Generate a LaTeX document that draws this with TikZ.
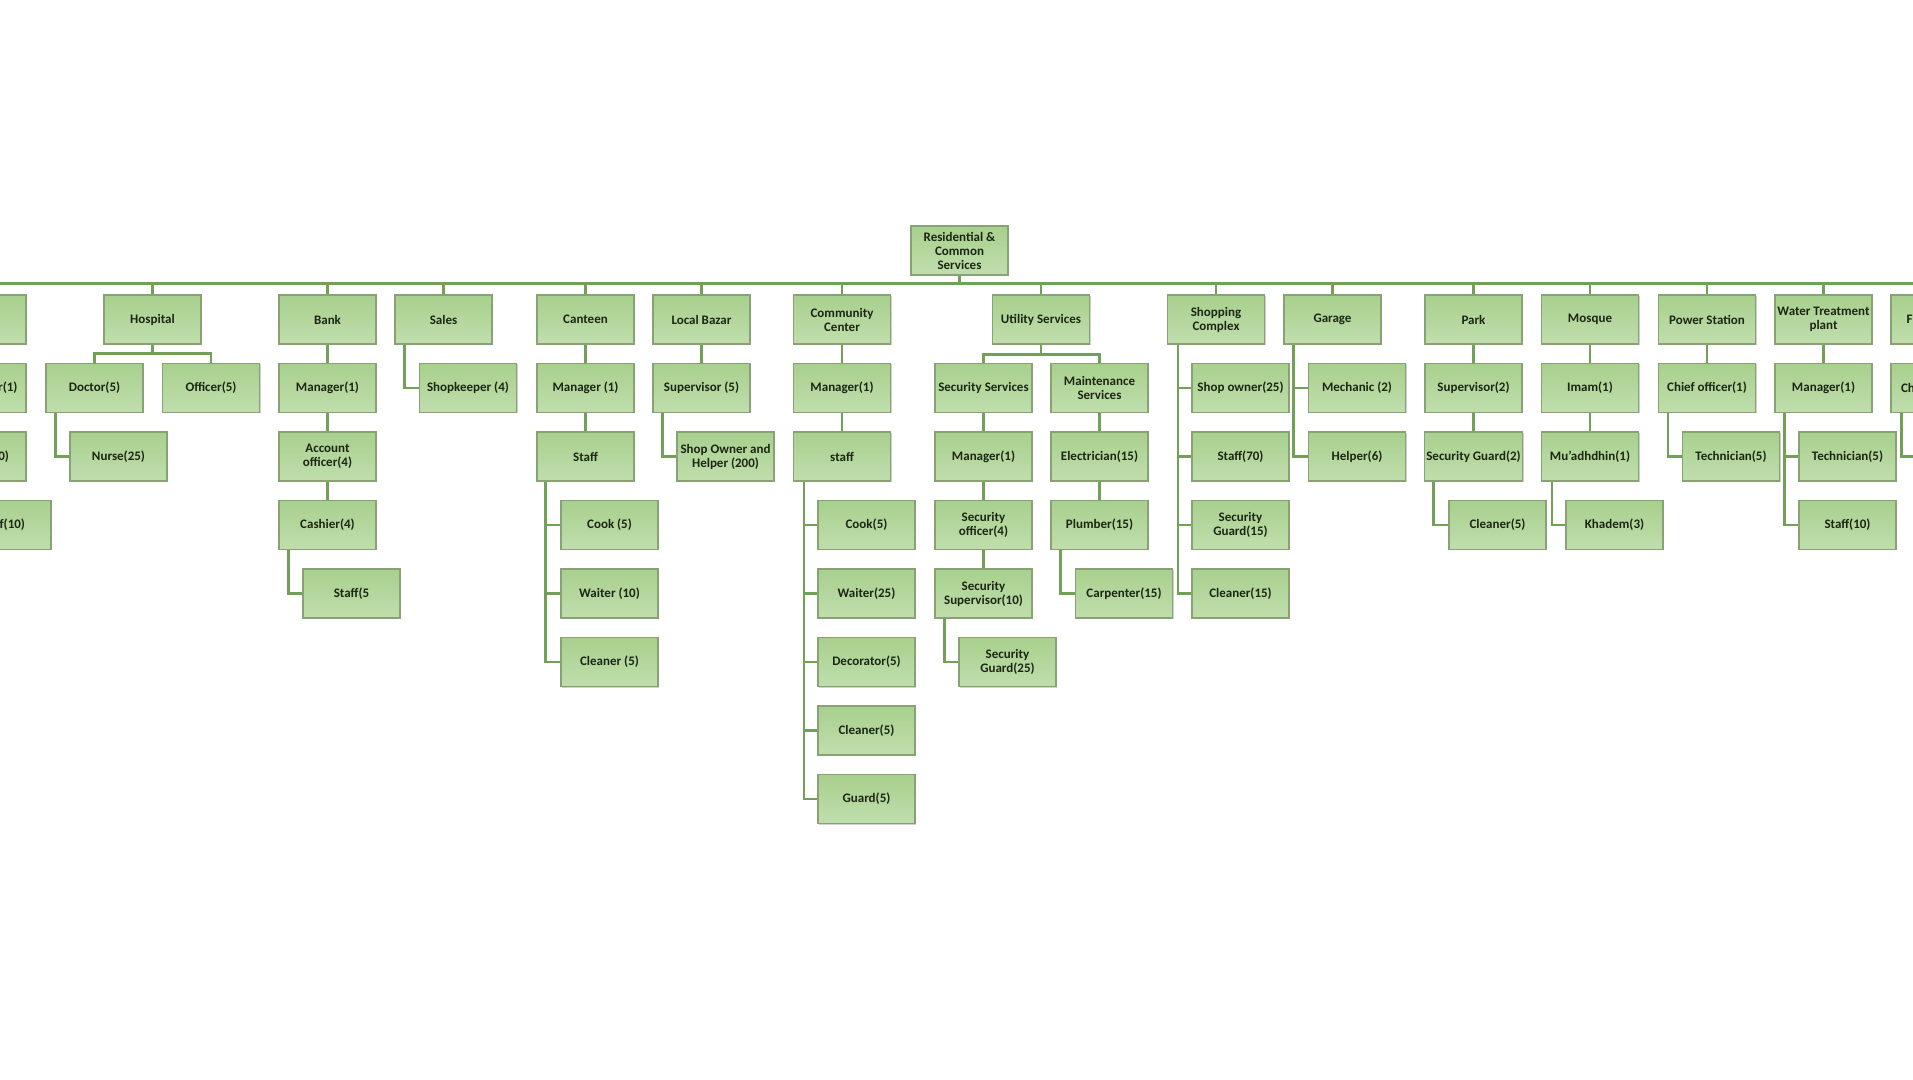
\documentclass[tikz,border=0pt]{standalone}
\usepackage{fontspec}
\setmainfont{Carlito}
\usetikzlibrary{shadows}
\definecolor{boxtop}{HTML}{A8D08D}
\definecolor{boxbot}{HTML}{C0DEAD}
\definecolor{boxline}{HTML}{88A276}
\definecolor{linkgreen}{HTML}{73A057}
\definecolor{inkdark}{HTML}{1C2614}
\begin{document}
\begin{tikzpicture}[x=0.5pt,y=-0.5pt,
  unit/.style={rectangle,draw=boxline,line width=0.7pt,top color=boxtop,bottom color=boxbot,
    drop shadow={shadow xshift=0.5pt,shadow yshift=-0.5pt,opacity=0.3,fill=black!60},
    minimum width=48.5pt,minimum height=24.5pt,inner sep=1pt,align=center,text=inkdark,
    font=\bfseries\fontsize{6.5}{7}\selectfont},
  cutleft/.style={unit,text width=40pt,inner xsep=4.25pt,align=right},
  cutright/.style={unit,text width=40pt,inner xsep=4.25pt,align=left},
  link/.style={draw=linkgreen,line width=1.2pt},
  bus/.style={draw=linkgreen,line width=1.5pt}]
\useasboundingbox (0,0) rectangle (1913,1080);
\fill[white] (0,0) rectangle (1913,1080);
\clip (0,0) rectangle (1913,1080);

\node[unit] (root) at (959.5,250.5) {Residential \&\\Common\\Services};
\coordinate (busL) at (-80,284);
\coordinate (busR) at (2000,284);

% cut off at the left edge
\node[unit] (xtop) at (-22.5,319.5) {};
\node[cutleft] (xa) at (-22.5,388) {r(1)};
\node[cutleft] (xb) at (-22.5,456.5) {0)\kern4.25pt};
\node[cutleft] (xc) at (2.5,525) {f(10)\kern8.75pt};

\node[unit] (hosp) at (152.5,319.5) {Hospital};
\node[unit] (hdoc) at (94.5,388) {Doctor(5)};
\node[unit] (hoff) at (211,388) {Officer(5)};
\node[unit] (hnurse) at (118.5,456.5) {Nurse(25)};

\node[unit] (bank) at (327.5,319.5) {Bank};
\node[unit] (bmgr) at (327.5,388) {Manager(1)};
\node[unit] (bacc) at (327.5,456.5) {Account\\officer(4)};
\node[unit] (bcash) at (327.5,525) {Cashier(4)};
\node[unit] (bstaff) at (351.5,593.5) {Staff(5};

\node[unit] (sales) at (443.5,319.5) {Sales};
\node[unit] (skeep) at (468,388) {Shopkeeper (4)};

\node[unit] (cant) at (585.5,319.5) {Canteen};
\node[unit] (cmgr) at (585.5,388) {Manager (1)};
\node[unit] (cstaff) at (585.5,456.5) {Staff};
\node[unit] (ccook) at (609.5,525) {Cook (5)};
\node[unit] (cwait) at (609.5,593.5) {Waiter (10)};
\node[unit] (cclean) at (609.5,662) {Cleaner (5)};

\node[unit] (bazar) at (701.5,319.5) {Local Bazar};
\node[unit] (zsup) at (701.5,388) {Supervisor (5)};
\node[unit] (zshop) at (725.5,456.5) {Shop Owner and\\Helper (200)};

\node[unit] (comm) at (842,319.5) {Community\\Center};
\node[unit] (mmgr) at (842,388) {Manager(1)};
\node[unit] (mstaff) at (842,456.5) {staff};
\node[unit] (mcook) at (866.5,525) {Cook(5)};
\node[unit] (mwait) at (866.5,593.5) {Waiter(25)};
\node[unit] (mdeco) at (866.5,662) {Decorator(5)};
\node[unit] (mclean) at (866.5,730.5) {Cleaner(5)};
\node[unit] (mguard) at (866.5,799) {Guard(5)};

\node[unit] (util) at (1041,319.5) {Utility Services};
\node[unit] (sec) at (983.5,388) {Security Services};
\node[unit] (maint) at (1099.5,388) {Maintenance\\Services};
\node[unit] (smgr) at (983.5,456.5) {Manager(1)};
\node[unit] (soff) at (983.5,525) {Security\\officer(4)};
\node[unit] (ssup) at (983.5,593.5) {Security\\Supervisor(10)};
\node[unit] (sguard) at (1007.5,662) {Security\\Guard(25)};
\node[unit] (elec) at (1099.5,456.5) {Electrician(15)};
\node[unit] (plumb) at (1099.5,525) {Plumber(15)};
\node[unit] (carp) at (1124,593.5) {Carpenter(15)};

\node[unit] (shop) at (1216,319.5) {Shopping\\Complex};
\node[unit] (pown) at (1240.5,388) {Shop owner(25)};
\node[unit] (pstaff) at (1240.5,456.5) {Staff(70)};
\node[unit] (pguard) at (1240.5,525) {Security\\Guard(15)};
\node[unit] (pclean) at (1240.5,593.5) {Cleaner(15)};

\node[unit] (gar) at (1332.5,319.5) {Garage};
\node[unit] (gmech) at (1357,388) {Mechanic (2)};
\node[unit] (ghelp) at (1357,456.5) {Helper(6)};

\node[unit] (park) at (1473.5,319.5) {Park};
\node[unit] (ksup) at (1473.5,388) {Supervisor(2)};
\node[unit] (kguard) at (1473.5,456.5) {Security Guard(2)};
\node[unit] (kclean) at (1497.5,525) {Cleaner(5)};

\node[unit] (mosq) at (1590,319.5) {Mosque};
\node[unit] (qimam) at (1590,388) {Imam(1)};
\node[unit] (qmuad) at (1590,456.5) {Mu'adhdhin(1)};
\node[unit] (qkhad) at (1614.5,525) {Khadem(3)};

\node[unit] (pow) at (1707,319.5) {Power Station};
\node[unit] (wchief) at (1707,388) {Chief officer(1)};
\node[unit] (wtech) at (1731,456.5) {Technician(5)};

\node[unit] (water) at (1823.5,319.5) {Water Treatment\\plant};
\node[unit] (tmgr) at (1823.5,388) {Manager(1)};
\node[unit] (ttech) at (1847.5,456.5) {Technician(5)};
\node[unit] (tstaff) at (1847.5,525) {Staff(10)};

% cut off at the right edge
\node[cutright] (ytop) at (1939.5,319.5) {\kern3.5pt F};
\node[cutright] (ya) at (1939.5,388) {\kern0.75pt Ch};
\node[unit] (yb) at (1963.5,456.5) {};

% top bus
\draw[bus] (busL) -- (busR);
\draw[link] (root) -- (root |- busL);
\draw[link] (xtop) -- (xtop |- busL);
\draw[link] (hosp) -- (hosp |- busL);
\draw[link] (bank) -- (bank |- busL);
\draw[link] (sales) -- (sales |- busL);
\draw[link] (cant) -- (cant |- busL);
\draw[link] (bazar) -- (bazar |- busL);
\draw[link] (comm) -- (comm |- busL);
\draw[link] (util) -- (util |- busL);
\draw[link] (shop) -- (shop |- busL);
\draw[link] (gar) -- (gar |- busL);
\draw[link] (park) -- (park |- busL);
\draw[link] (mosq) -- (mosq |- busL);
\draw[link] (pow) -- (pow |- busL);
\draw[link] (water) -- (water |- busL);
\draw[link] (ytop) -- (ytop |- busL);

% columns
\draw[link] (xtop) -- (xa) -- (xb);
\draw[link] ([xshift=5pt]xb.south west) |- (xc);

\draw[link] (hosp.south) -- ++(0,9) -| (hdoc);
\draw[link] (hosp.south) -- ++(0,9) -| (hoff);
\draw[link] ([xshift=5pt]hdoc.south west) |- (hnurse);

\draw[link] (bank) -- (bmgr) -- (bacc) -- (bcash);
\draw[link] ([xshift=5pt]bcash.south west) |- (bstaff);

\draw[link] ([xshift=5pt]sales.south west) |- (skeep);

\draw[link] (cant) -- (cmgr) -- (cstaff);
\draw[link] ([xshift=4.5pt]cstaff.south west) |- (ccook);
\draw[link] ([xshift=4.5pt]cstaff.south west) |- (cwait);
\draw[link] ([xshift=4.5pt]cstaff.south west) |- (cclean);

\draw[link] (bazar) -- (zsup);
\draw[link] ([xshift=5pt]zsup.south west) |- (zshop);

\draw[link] (comm) -- (mmgr) -- (mstaff);
\draw[link] ([xshift=5.5pt]mstaff.south west) |- (mcook);
\draw[link] ([xshift=5.5pt]mstaff.south west) |- (mwait);
\draw[link] ([xshift=5.5pt]mstaff.south west) |- (mdeco);
\draw[link] ([xshift=5.5pt]mstaff.south west) |- (mclean);
\draw[link] ([xshift=5.5pt]mstaff.south west) |- (mguard);

\draw[link] (util.south) -- ++(0,10) -| (sec);
\draw[link] (util.south) -- ++(0,10) -| (maint);
\draw[link] (sec) -- (smgr) -- (soff) -- (ssup);
\draw[link] ([xshift=5pt]ssup.south west) |- (sguard);
\draw[link] (maint) -- (elec) -- (plumb);
\draw[link] ([xshift=5pt]plumb.south west) |- (carp);

\draw[link] ([xshift=5.5pt]shop.south west) |- (pown);
\draw[link] ([xshift=5.5pt]shop.south west) |- (pstaff);
\draw[link] ([xshift=5.5pt]shop.south west) |- (pguard);
\draw[link] ([xshift=5.5pt]shop.south west) |- (pclean);

\draw[link] ([xshift=5pt]gar.south west) |- (gmech);
\draw[link] ([xshift=5pt]gar.south west) |- (ghelp);

\draw[link] (park) -- (ksup) -- (kguard);
\draw[link] ([xshift=5pt]kguard.south west) |- (kclean);

\draw[link] (mosq) -- (qimam) -- (qmuad);
\draw[link] ([xshift=5.5pt]qmuad.south west) |- (qkhad);

\draw[link] (pow) -- (wchief);
\draw[link] ([xshift=5pt]wchief.south west) |- (wtech);

\draw[link] (water) -- (tmgr);
\draw[link] ([xshift=5pt]tmgr.south west) |- (ttech);
\draw[link] ([xshift=5pt]tmgr.south west) |- (tstaff);

\draw[link] (ytop) -- (ya);
\draw[link] ([xshift=5.5pt]ya.south west) |- (yb);
\end{tikzpicture}
\end{document}
